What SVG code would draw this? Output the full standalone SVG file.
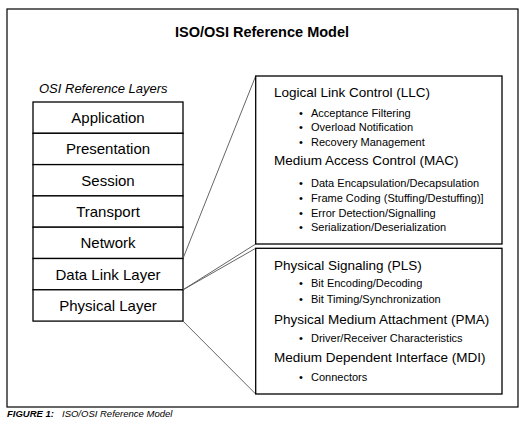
<svg xmlns="http://www.w3.org/2000/svg" width="526" height="440" viewBox="0 0 526 440">
<style>
text{font-family:"Liberation Sans",Arial,sans-serif;fill:#000}
.box{fill:#fff;stroke:#000;stroke-width:1.3}
.layer{font-size:15px;text-anchor:middle}
.h{font-size:13.5px}
.b{font-size:11px}
.conn line{stroke:#555;stroke-width:0.9}
</style>
<rect x="0" y="0" width="526" height="440" fill="#fff"/>
<rect id="frame" x="7" y="9" width="511" height="398" fill="none" stroke="#000" stroke-width="1.2"/>
<text id="title" x="262" y="37" font-size="14.5" font-weight="bold" text-anchor="middle">ISO/OSI Reference Model</text>
<text id="layers-title" x="39" y="93" font-size="13" font-style="italic">OSI Reference Layers</text>
<g id="layer-application"><rect class="box" x="33" y="102" width="150" height="31.3"/><text class="layer" x="108" y="123">Application</text></g>
<g id="layer-presentation"><rect class="box" x="33" y="133.3" width="150" height="31.3"/><text class="layer" x="108" y="154.3">Presentation</text></g>
<g id="layer-session"><rect class="box" x="33" y="164.6" width="150" height="31.3"/><text class="layer" x="108" y="185.6">Session</text></g>
<g id="layer-transport"><rect class="box" x="33" y="195.9" width="150" height="31.3"/><text class="layer" x="108" y="216.9">Transport</text></g>
<g id="layer-network"><rect class="box" x="33" y="227.2" width="150" height="31.3"/><text class="layer" x="108" y="248.2">Network</text></g>
<g id="layer-datalink"><rect class="box" x="33" y="258.5" width="150" height="31.3"/><text class="layer" x="108" y="279.5">Data Link Layer</text></g>
<g id="layer-physical"><rect class="box" x="33" y="289.8" width="150" height="31.3"/><text class="layer" x="108" y="310.8">Physical Layer</text></g>
<g id="connectors" class="conn">
<line x1="183" y1="258.5" x2="255.7" y2="76"/>
<line x1="183" y1="289.8" x2="255.7" y2="244"/>
<line x1="183" y1="289.8" x2="255.7" y2="248.3"/>
<line x1="183" y1="321.1" x2="255.7" y2="394"/>
</g>
<g id="datalink-detail">
<rect class="box" x="255.7" y="76" width="246.3" height="168"/>
<text class="h" x="274" y="97">Logical Link Control (LLC)</text>
<text class="b" x="299" y="116.5">•</text><text class="b" x="311" y="116.5">Acceptance Filtering</text>
<text class="b" x="299" y="131">•</text><text class="b" x="311" y="131">Overload Notification</text>
<text class="b" x="299" y="146">•</text><text class="b" x="311" y="146">Recovery Management</text>
<text class="h" x="274" y="165">Medium Access Control (MAC)</text>
<text class="b" x="299" y="187">•</text><text class="b" x="311" y="187">Data Encapsulation/Decapsulation</text>
<text class="b" x="299" y="201.5">•</text><text class="b" x="311" y="201.5">Frame Coding (Stuffing/Destuffing)]</text>
<text class="b" x="299" y="216.5">•</text><text class="b" x="311" y="216.5">Error Detection/Signalling</text>
<text class="b" x="299" y="230.5">•</text><text class="b" x="311" y="230.5">Serialization/Deserialization</text>
</g>
<g id="physical-detail">
<rect class="box" x="255.7" y="248.3" width="246.3" height="145.7"/>
<text class="h" x="274" y="270">Physical Signaling (PLS)</text>
<text class="b" x="299" y="287">•</text><text class="b" x="311" y="287">Bit Encoding/Decoding</text>
<text class="b" x="299" y="303">•</text><text class="b" x="311" y="303">Bit Timing/Synchronization</text>
<text class="h" x="274" y="324">Physical Medium Attachment (PMA)</text>
<text class="b" x="299" y="342">•</text><text class="b" x="311" y="342">Driver/Receiver Characteristics</text>
<text class="h" x="274" y="362">Medium Dependent Interface (MDI)</text>
<text class="b" x="299" y="381">•</text><text class="b" x="311" y="381">Connectors</text>
</g>
<text id="caption" x="7" y="417" font-size="9.5" font-style="italic"><tspan font-weight="bold">FIGURE 1:</tspan><tspan x="62">ISO/OSI Reference Model</tspan></text>
</svg>
